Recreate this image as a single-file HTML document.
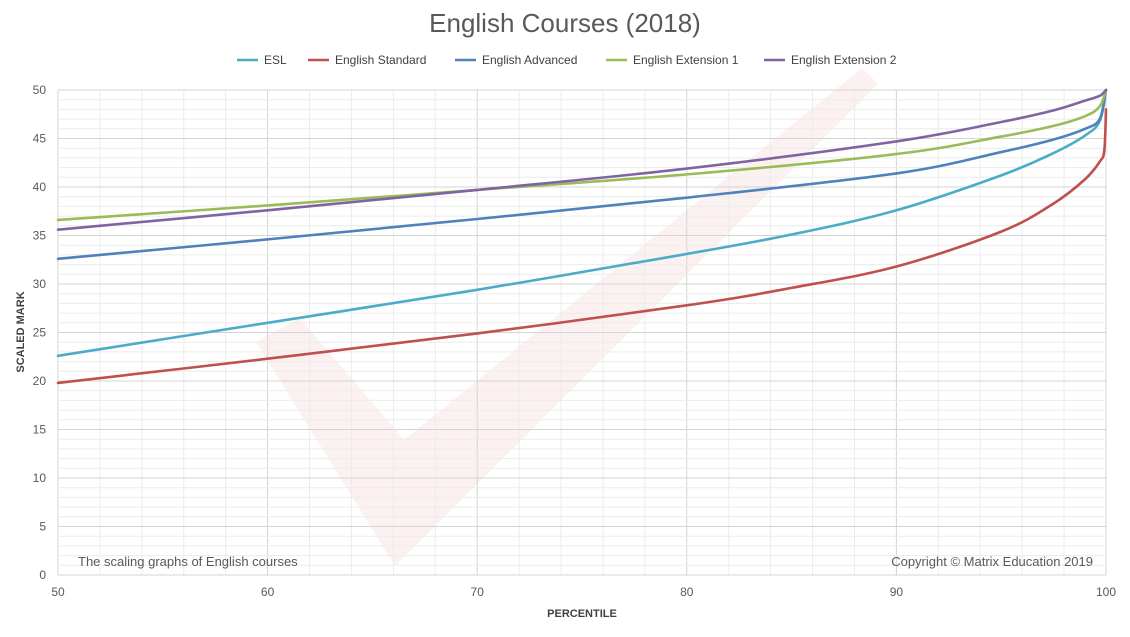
<!DOCTYPE html>
<html><head><meta charset="utf-8"><style>
body{margin:0;background:#fff;}
svg{display:block;font-family:"Liberation Sans",sans-serif;}
</style></head><body>
<svg id="s" width="1130" height="637" viewBox="0 0 1130 637" xmlns="http://www.w3.org/2000/svg">
<rect width="1130" height="637" fill="#fff"/>
<polygon points="256,342 300,318 404,440 862,68 878,84 395,566" fill="#f9e3e3" opacity="0.5"/>
<g id="grid"></g>
<g id="series" fill="none" stroke-width="2.6" stroke-linejoin="round" stroke-linecap="round"></g>
<text x="565" y="32" text-anchor="middle" font-size="26" fill="#595959">English Courses (2018)</text>
<g font-size="12" fill="#404040">
<line x1="237" y1="60" x2="258" y2="60" stroke="#4bacc6" stroke-width="2.5"/><text x="264" y="64">ESL</text>
<line x1="308" y1="60" x2="329" y2="60" stroke="#c0504d" stroke-width="2.5"/><text x="335" y="64">English Standard</text>
<line x1="455" y1="60" x2="476" y2="60" stroke="#4f81bd" stroke-width="2.5"/><text x="482" y="64">English Advanced</text>
<line x1="606" y1="60" x2="627" y2="60" stroke="#9bbb59" stroke-width="2.5"/><text x="633" y="64">English Extension 1</text>
<line x1="764" y1="60" x2="785" y2="60" stroke="#8064a2" stroke-width="2.5"/><text x="791" y="64">English Extension 2</text>
</g>
<text x="78" y="566" font-size="13" fill="#595959">The scaling  graphs of English courses</text>
<text x="1093" y="566" font-size="13" fill="#595959" text-anchor="end">Copyright © Matrix Education 2019</text>
<text x="582" y="617" font-size="11" font-weight="bold" fill="#404040" text-anchor="middle">PERCENTILE</text>
<text transform="translate(24,332) rotate(-90)" font-size="11" font-weight="bold" fill="#404040" text-anchor="middle">SCALED MARK</text>
<g id="lab" font-size="12" fill="#595959"></g>
</svg>
<script>
var X=function(p){return 58+(p-50)*20.96},Y=function(m){return 575-m*9.7};
var g='',ns='';
for(var p=50;p<=100;p+=2){var maj=(p%10==0);g+='<line x1="'+X(p)+'" y1="90" x2="'+X(p)+'" y2="575" stroke="'+(maj?'#d4d4d4':'#ececec')+'" stroke-width="1"/>';}
for(var m=0;m<=50;m++){var maj=(m%5==0);g+='<line x1="58" y1="'+Y(m)+'" x2="1106" y2="'+Y(m)+'" stroke="'+(maj?'#d4d4d4':'#ececec')+'" stroke-width="1"/>';}
document.getElementById('grid').innerHTML=g;
var l='';
for(var p=50;p<=100;p+=10)l+='<text x="'+X(p)+'" y="596" text-anchor="middle">'+p+'</text>';
for(var m=0;m<=50;m+=5)l+='<text x="46" y="'+(Y(m)+4)+'" text-anchor="end">'+m+'</text>';
document.getElementById('lab').innerHTML=l;
var S=[
['#4bacc6',[[50,22.6],[60,26],[70,29.4],[80,33.1],[85,35.1],[90,37.6],[95,41.2],[97.5,43.5],[99,45.3],[99.7,46.8],[100,50]]],
['#c0504d',[[50,19.8],[60,22.3],[70,24.9],[80,27.8],[85,29.6],[90,31.8],[95,35.4],[97.5,38.3],[99,40.8],[99.7,42.6],[99.92,43.8],[100,48]]],
['#4f81bd',[[50,32.6],[60,34.6],[70,36.7],[80,38.9],[90,41.4],[95,43.6],[97.5,44.9],[99,46],[99.7,47],[100,50]]],
['#9bbb59',[[50,36.6],[60,38.1],[70,39.7],[80,41.3],[90,43.4],[95,45.2],[97.5,46.3],[99,47.3],[99.7,48.3],[100,50]]],
['#8064a2',[[50,35.6],[60,37.6],[70,39.7],[80,41.9],[90,44.7],[95,46.7],[97.5,47.9],[99,48.9],[99.7,49.4],[100,50]]]
];
for(var i=0;i<S.length;i++){var pts=S[i][1].map(function(a){return [X(a[0]),Y(a[1])]});
var d='M'+pts[0][0]+','+pts[0][1];
for(var k=0;k<pts.length-1;k++){var p0=pts[k-1]||pts[k],p1=pts[k],p2=pts[k+1],p3=pts[k+2]||p2;
var c1=[p1[0]+(p2[0]-p0[0])/6,p1[1]+(p2[1]-p0[1])/6],c2=[p2[0]-(p3[0]-p1[0])/6,p2[1]-(p3[1]-p1[1])/6];
d+=' C'+c1+' '+c2+' '+p2;}
ns+='<path d="'+d+'" stroke="'+S[i][0]+'"/>';}
document.getElementById('series').innerHTML=ns;
</script>
</body></html>
